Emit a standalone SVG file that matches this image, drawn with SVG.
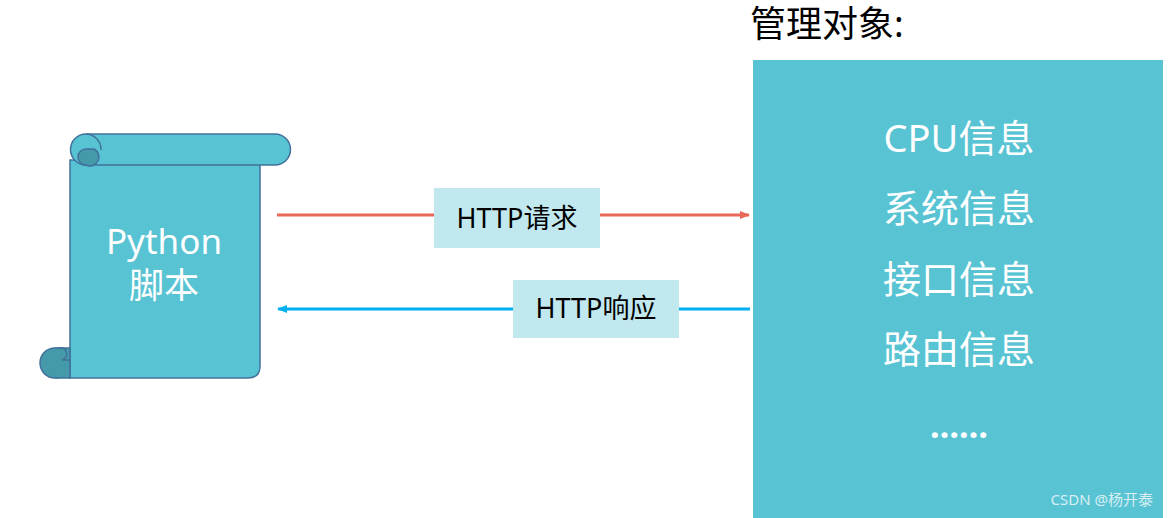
<svg xmlns="http://www.w3.org/2000/svg" width="1169" height="518" viewBox="0 0 1169 518">
<defs>
<style>
.t{font-family:"Noto Sans","Noto Sans CJK SC",sans-serif}
.w{fill:#fff}
.s{stroke:#41719c;stroke-width:1.5}
</style>
<marker id="ar" markerWidth="10" markerHeight="8" refX="9" refY="4" orient="auto" markerUnits="userSpaceOnUse"><path d="M0,0L10,4L0,8z" fill="#e8685a"/></marker>
<marker id="ab" markerWidth="10" markerHeight="8" refX="9" refY="4" orient="auto" markerUnits="userSpaceOnUse"><path d="M0,0L10,4L0,8z" fill="#00b0f0"/></marker>
</defs>
<rect width="1169" height="518" fill="#fff"/>
<g id="script">
<path class="s" fill="#57c3d3" d="M70,160 L260,160 L260,366 Q260,378 248,378 L70,378 Z"/>
<path class="s" fill="#57c3d3" d="M86,134 L275,134 A15.5,15.5 0 0 1 275,165 L86,165 A15.5,15.5 0 0 1 86,134 Z"/>
<path class="s" fill="#449aa8" d="M86,165 A8,8 0 0 1 86,149 L94,149 A8,8 0 0 1 86,165 Z"/>
<path class="s" fill="none" d="M86,134 A15.5,15.5 0 0 1 101,149 L101,150"/>
<circle class="s" cx="55" cy="363" r="15" fill="#449aa8"/>
<path class="s" fill="#449aa8" d="M55,348 L70,348 L70,378 L55,378"/>
<path class="s" fill="none" d="M59,348 A6,6 0 0 1 62,360 L70,360"/>
<text class="t w" x="164" y="254" font-size="35" text-anchor="middle">Python</text>
<text class="t w" x="164" y="298" font-size="35" text-anchor="middle">脚本</text>
</g>
<g id="connectors">
<line x1="277" y1="215" x2="749" y2="215" stroke="#e8685a" stroke-width="3" marker-end="url(#ar)"/>
<line x1="750" y1="309" x2="278" y2="309" stroke="#00b0f0" stroke-width="3" marker-end="url(#ab)"/>
</g>
<g id="req">
<rect x="434" y="188" width="166" height="60" fill="#c0e8ee"/>
<text class="t" x="517" y="228" font-size="27" text-anchor="middle">HTTP请求</text>
</g>
<g id="resp">
<rect x="513" y="280" width="166" height="58" fill="#c0e8ee"/>
<text class="t" x="596" y="318" font-size="27" text-anchor="middle">HTTP响应</text>
</g>
<g id="managed">
<text class="t" x="750" y="37" font-size="36">管理对象:</text>
<rect x="753" y="60" width="410" height="458" fill="#57c3d3"/>
<text class="t w" x="959" y="152" font-size="38" text-anchor="middle">CPU信息</text>
<text class="t w" x="959" y="222" font-size="38" text-anchor="middle">系统信息</text>
<text class="t w" x="959" y="293" font-size="38" text-anchor="middle">接口信息</text>
<text class="t w" x="959" y="363" font-size="38" text-anchor="middle">路由信息</text>
<text class="t w" x="959" y="438" font-size="34" font-weight="bold" text-anchor="middle">……</text>
<text class="t" x="1153" y="505" font-size="15" fill="#d8eef2" text-anchor="end">CSDN @杨开泰</text>
</g>
</svg>
